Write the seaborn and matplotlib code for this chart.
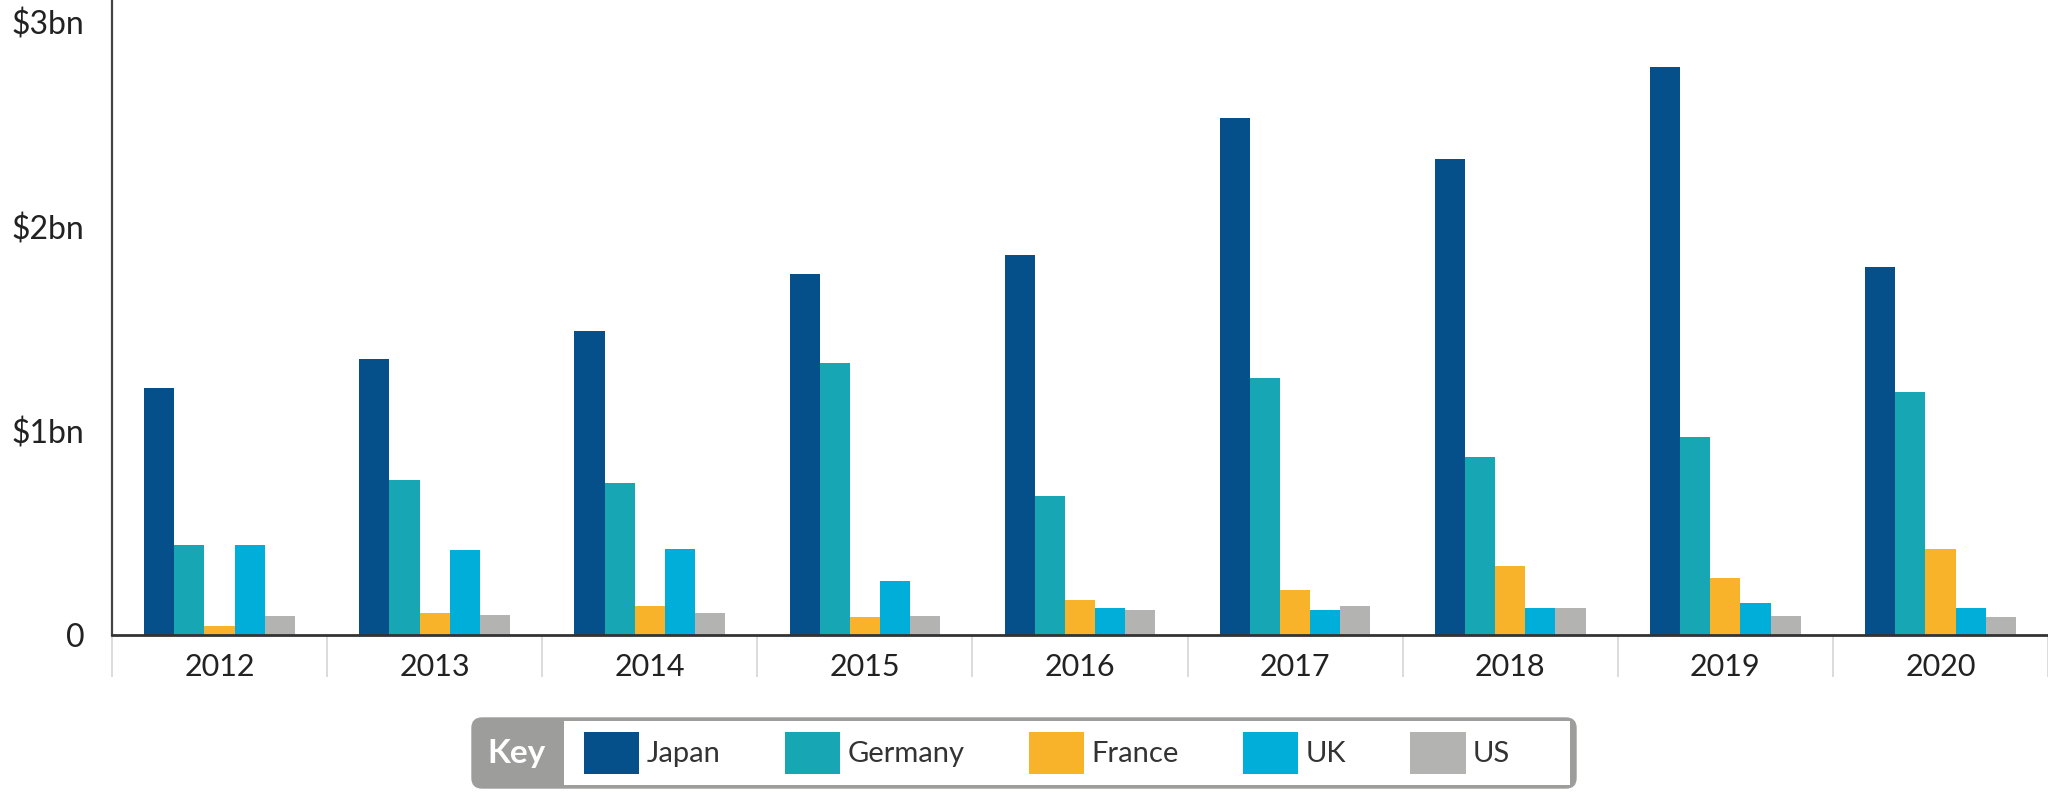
import pandas as pd
import matplotlib.pyplot as plt
import seaborn as sns
from matplotlib.patches import Patch, FancyBboxPatch, Rectangle

# values in $bn
years = ['2012', '2013', '2014', '2015', '2016', '2017', '2018', '2019', '2020']
japan = [1.21, 1.35, 1.49, 1.77, 1.86, 2.53, 2.33, 2.78, 1.80]
germany = [0.44, 0.76, 0.745, 1.33, 0.68, 1.26, 0.87, 0.97, 1.19]
france = [0.045, 0.11, 0.14, 0.087, 0.17, 0.22, 0.34, 0.28, 0.42]
uk = [0.44, 0.415, 0.42, 0.265, 0.13, 0.12, 0.13, 0.155, 0.13]
us = [0.095, 0.10, 0.11, 0.093, 0.12, 0.14, 0.13, 0.093, 0.087]

countries = ['Japan', 'Germany', 'France', 'UK', 'US']
colors = ['#054F8A', '#17A6B4', '#F8B32B', '#00AEDA', '#B3B3B2']
y_ticks = [0, 1, 2, 3]
y_labels = ['0', '$1bn', '$2bn', '$3bn']

series = dict(zip(countries, [japan, germany, france, uk, us]))
df = pd.DataFrame([
    {'year': y, 'country': c, 'value': v}
    for c in countries for y, v in zip(years, series[c])
])

sns.set_style('white')
plt.rcParams['font.family'] = ['Lato', 'DejaVu Sans']

fig = plt.figure(figsize=(20.48, 7.94), dpi=100)
ax = fig.add_axes([112 / 2048, 159 / 794, 1 - 112 / 2048, 635 / 794])

sns.barplot(
    data=df, x='year', y='value', hue='country',
    hue_order=countries, palette=colors, saturation=1,
    width=0.7, gap=0, linewidth=0, legend=False, ax=ax,
)

ax.set_xlim(-0.5, len(years) - 0.5)
ax.set_ylim(0, 3.11)
ax.set_xlabel('')
ax.set_ylabel('')

ax.set_yticks(y_ticks)
ax.set_yticklabels(y_labels)
ax.tick_params(axis='y', length=0, pad=20, labelsize=23, labelcolor='#222222')

# category separators as minor ticks under the axis
ax.set_xticks([i - 0.5 for i in range(len(years) + 1)], minor=True)
ax.tick_params(axis='x', which='major', length=0, pad=13, labelsize=22,
               labelcolor='#222222')
ax.tick_params(axis='x', which='minor', length=30, width=1.2,
               color='#D5D5D5', direction='out', bottom=True)

for s in ['top', 'right']:
    ax.spines[s].set_visible(False)
ax.spines['left'].set_color('#444444')
ax.spines['left'].set_linewidth(1.6)
ax.spines['bottom'].set_color('#333333')
ax.spines['bottom'].set_linewidth(2)

# key box at the bottom
kax = fig.add_axes([470 / 2048, 4 / 794, 1108 / 2048, 74 / 794])
kax.set_xlim(0, 1108)
kax.set_ylim(0, 74)
kax.axis('off')
kax.add_patch(FancyBboxPatch((2, 2), 1104, 70, boxstyle='round,pad=0,rounding_size=10',
                             facecolor='#9D9D9C', edgecolor='#9D9D9C', linewidth=1,
                             clip_on=False))
kax.add_patch(Rectangle((94, 5), 1006, 64, facecolor='white', edgecolor='none'))
kax.text(47, 37, 'Key', ha='center', va='center', color='white',
         fontsize=24, fontweight='bold')

handles = [Patch(facecolor=c, edgecolor='none') for c in colors]
kax.legend(handles, countries, loc='center left', bbox_to_anchor=(114 / 1108, 0.5),
           ncol=5, frameon=False, fontsize=21, handlelength=1.9, handleheight=1.82,
           handletextpad=0.25, columnspacing=2.2, labelcolor='#333333',
           borderaxespad=0, borderpad=0)

fig.savefig('out.png', dpi=100)
